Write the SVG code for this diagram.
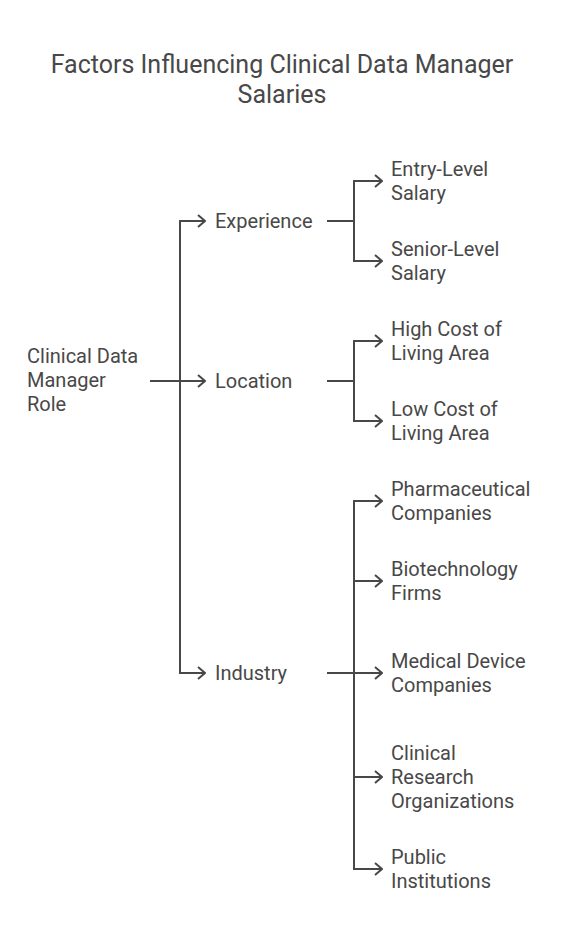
<svg xmlns="http://www.w3.org/2000/svg" width="570" height="942" viewBox="0 0 570 942">
<defs>
<style>
text{font-family:Roboto,"Liberation Sans",sans-serif;fill:#484848;}
.t{font-size:25px;}
.n{font-size:20px;}
.c{fill:none;stroke:#484848;stroke-width:2;stroke-linejoin:miter;}
</style>
<marker id="a" viewBox="0 0 10 14" refX="9" refY="7" markerWidth="10" markerHeight="14" markerUnits="userSpaceOnUse" orient="auto">
<path d="M2,1 L9,7 L2,13" fill="none" stroke="#484848" stroke-width="2"/>
</marker>
</defs>
<rect width="570" height="942" fill="#ffffff"/>
<g id="title">
<text class="t" x="282" y="73" text-anchor="middle">Factors Influencing Clinical Data Manager</text>
<text class="t" x="282" y="103" text-anchor="middle">Salaries</text>
</g>
<g id="connectors">
<path class="c" d="M150,381 H180"/>
<path class="c" d="M180,381 V221 H205" marker-end="url(#a)"/>
<path class="c" d="M180,381 H205" marker-end="url(#a)"/>
<path class="c" d="M180,381 V673 H205" marker-end="url(#a)"/>
<path class="c" d="M327,221 H354"/>
<path class="c" d="M354,221 V181 H382" marker-end="url(#a)"/>
<path class="c" d="M354,221 V261 H382" marker-end="url(#a)"/>
<path class="c" d="M327,381 H354"/>
<path class="c" d="M354,381 V341 H382" marker-end="url(#a)"/>
<path class="c" d="M354,381 V421 H382" marker-end="url(#a)"/>
<path class="c" d="M327,673 H354"/>
<path class="c" d="M354,673 V501 H382" marker-end="url(#a)"/>
<path class="c" d="M354,673 V581 H382" marker-end="url(#a)"/>
<path class="c" d="M354,673 H382" marker-end="url(#a)"/>
<path class="c" d="M354,673 V777 H382" marker-end="url(#a)"/>
<path class="c" d="M354,673 V869 H382" marker-end="url(#a)"/>
</g>
<g id="root"><text class="n" x="27" y="363">Clinical Data</text><text class="n" x="27" y="387">Manager</text><text class="n" x="27" y="411">Role</text></g>
<g id="experience"><text class="n" x="215" y="228">Experience</text></g>
<g id="location"><text class="n" x="215" y="388">Location</text></g>
<g id="industry"><text class="n" x="215" y="680">Industry</text></g>
<g id="entry"><text class="n" x="391" y="176">Entry-Level</text><text class="n" x="391" y="200">Salary</text></g>
<g id="senior"><text class="n" x="391" y="256">Senior-Level</text><text class="n" x="391" y="280">Salary</text></g>
<g id="highcost"><text class="n" x="391" y="336">High Cost of</text><text class="n" x="391" y="360">Living Area</text></g>
<g id="lowcost"><text class="n" x="391" y="416">Low Cost of</text><text class="n" x="391" y="440">Living Area</text></g>
<g id="pharma"><text class="n" x="391" y="496">Pharmaceutical</text><text class="n" x="391" y="520">Companies</text></g>
<g id="biotech"><text class="n" x="391" y="576">Biotechnology</text><text class="n" x="391" y="600">Firms</text></g>
<g id="meddevice"><text class="n" x="391" y="668">Medical Device</text><text class="n" x="391" y="692">Companies</text></g>
<g id="cro"><text class="n" x="391" y="760">Clinical</text><text class="n" x="391" y="784">Research</text><text class="n" x="391" y="808">Organizations</text></g>
<g id="public"><text class="n" x="391" y="864">Public</text><text class="n" x="391" y="888">Institutions</text></g>
</svg>
